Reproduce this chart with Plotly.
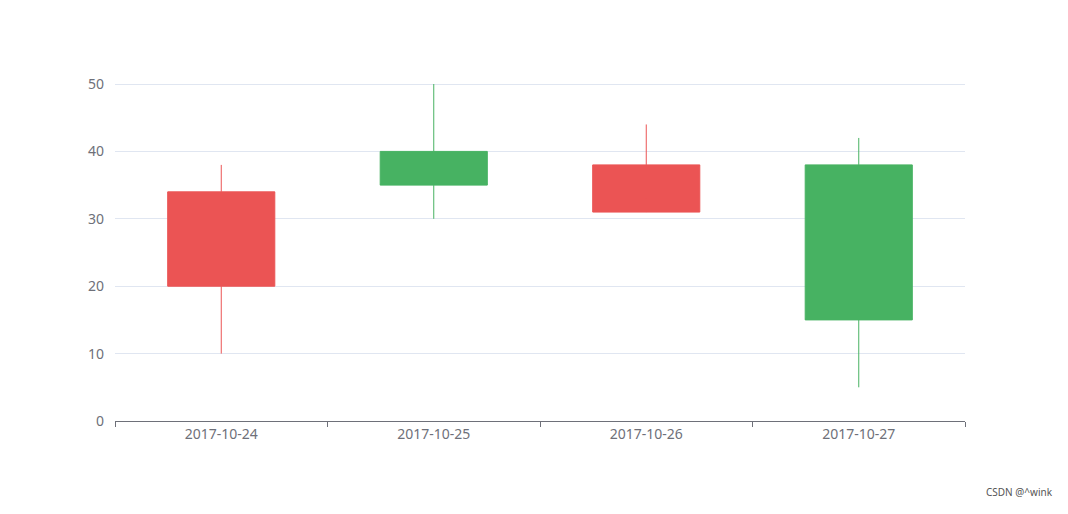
import plotly.graph_objects as go

dates = ["2017-10-24", "2017-10-25", "2017-10-26", "2017-10-27"]
opens = [20, 40, 31, 38]
closes = [34, 35, 38, 15]
lows = [10, 30, 33, 5]
highs = [38, 50, 44, 42]

fig = go.Figure(go.Candlestick(
    x=dates, open=opens, close=closes, low=lows, high=highs,
    increasing=dict(line=dict(color="#eb5454", width=1), fillcolor="#eb5454"),
    decreasing=dict(line=dict(color="#47b262", width=1), fillcolor="#47b262"),
    whiskerwidth=0,
))
fig.update_layout(
    width=1068, height=514, margin=dict(l=107, r=111, t=74, b=101),
    paper_bgcolor="white", plot_bgcolor="white", showlegend=False,
    font=dict(family="Microsoft YaHei, Noto Sans, sans-serif", size=14, color="#6e7079"),
    boxgap=0.28,
    xaxis=dict(type="category", range=[-0.5, 3.5], rangeslider=dict(visible=False),
               tickson="boundaries", ticks="outside", ticklen=5, tickcolor="#6e7079",
               showline=True, linecolor="#6e7079", showgrid=False, fixedrange=True),
    yaxis=dict(range=[0, 50.3], tickvals=[0, 10, 20, 30, 40, 50], showgrid=True,
               gridcolor="#e0e6f1", zeroline=False, showline=False, ticks="",
               ticklabelstandoff=10),
    annotations=[dict(text="CSDN @^wink", x=1, y=0, xref="paper", yref="paper",
                      xshift=90, yshift=-80, xanchor="right", yanchor="bottom",
                      showarrow=False, font=dict(size=10, color="#555"))],
)
fig.write_html("out.html")
